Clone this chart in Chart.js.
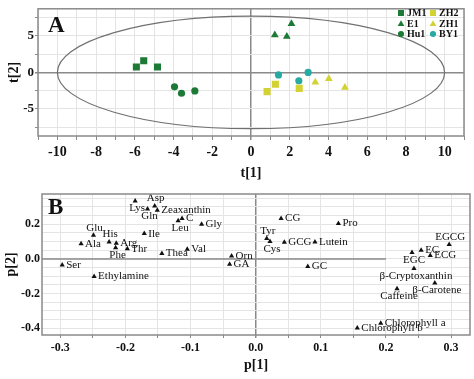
<!DOCTYPE html>
<html lang="en">
<head>
<meta charset="UTF-8">
<title>PCA scores and loadings</title>
<script src="https://cdn.jsdelivr.net/npm/chart.js"></script>
<style>
  body { margin: 0; background: #fff; }
  #wrap { position: relative; width: 474px; height: 379px; }
  canvas { position: absolute; left: 0; }
  #scoreChart { top: 0; }
  #loadChart { top: 182px; }
</style>
</head>
<body>
<div id="wrap">
  <canvas id="scoreChart" width="474" height="182"></canvas>
  <canvas id="loadChart" width="474" height="197"></canvas>
</div>
<script>
// ---- panel A: scores t[1] / t[2] ----
const JM1_T1 = [-5.92, -5.54, -4.83];
const JM1_T2 = [0.75, 1.6, 0.75];
const E1_T1 = [1.23, 2.09, 1.85];
const E1_T2 = [5.1, 6.67, 4.9];
const HU1_T1 = [-3.95, -3.59, -2.9];
const HU1_T2 = [-1.97, -2.85, -2.54];
const ZH2_T1 = [0.83, 1.26, 2.49];
const ZH2_T2 = [-2.63, -1.62, -2.19];
const ZH1_T1 = [3.32, 4.02, 4.85];
const ZH1_T2 = [-1.36, -0.88, -2.06];
const BY1_T1 = [1.42, 2.95, 2.47];
const BY1_T2 = [-0.35, 0.0, -1.14];

const T1_LABELS = [-10, -8, -6, -4, -2, 0, 2, 4, 6, 8, 10];
const T2_LABELS = [-5, 0, 5];
// Hotelling ellipse semi axes
const ELLIPSE_T1 = 10;
const ELLIPSE_T2 = 7.7;

// ---- panel B: loadings p[1] / p[2] ----
const compounds = ['Ser', 'Ethylamine', 'Ala', 'Glu', 'His', 'Arg', 'Phe', 'Thr', 'Lys', 'Asp',
  'Gln', 'Zeaxanthin', 'Ile', 'Leu', 'C', 'Gly', 'Thea', 'Val', 'Orn', 'GA',
  'CG', 'Pro', 'Tyr', 'Cys', 'GCG', 'Lutein', 'GC', 'EGCG', 'EC', 'EGC',
  'ECG', 'β-Cryptoxanthin', 'β-Carotene', 'Caffeine', 'Chlorophyll a', 'Chlorophyll b'];
const P1 = [-0.297, -0.248, -0.268, -0.249, -0.225, -0.214, -0.215, -0.197, -0.185, -0.155,
  -0.166, -0.151, -0.171, -0.119, -0.113, -0.083, -0.144, -0.105, -0.037, -0.040,
  0.039, 0.127, 0.017, 0.022, 0.044, 0.091, 0.080, 0.297, 0.254, 0.240,
  0.268, 0.243, 0.275, 0.217, 0.192, 0.156];
const P2 = [-0.035, -0.102, 0.087, 0.137, 0.098, 0.091, 0.065, 0.058, 0.335, 0.306,
  0.289, 0.281, 0.146, 0.221, 0.233, 0.200, 0.031, 0.056, 0.017, -0.031,
  0.233, 0.204, 0.118, 0.100, 0.096, 0.098, -0.044, 0.083, 0.050, 0.037,
  0.019, -0.056, -0.140, -0.172, -0.372, -0.399];
// where each name sits: r = right, a = above, b = below
const labelSide = ['r', 'r', 'r', 'a', 'a', 'r', 'b', 'r', 'b', 'a',
  'b', 'r', 'r', 'b', 'r', 'r', 'r', 'r', 'r', 'r',
  'r', 'r', 'a', 'b', 'r', 'r', 'r', 'a', 'r', 'b',
  'r', 'b', 'b', 'b', 'r', 'r'];

const P1_LABELS = [-0.3, -0.2, -0.1, 0, 0.1, 0.2, 0.3];
const P2_LABELS = [-0.4, -0.2, 0, 0.2];
const ZERO_LINE_END = 0.2;

const SERIF = '"Liberation Serif", "Times New Roman", serif';
const DARK_GREEN = '#1c7a36';
const YELLOW = '#d2d232';
const TEAL = '#28aaa2';
const FRAME = '#8a8a8a';
const GRID = '#e4e4e4';

function pts(xs, ys) {
  return xs.map((x, i) => ({ x: x, y: ys[i] }));
}

function stepTicks(from, to, step) {
  const out = [];
  const n = Math.round((to - from) / step);
  for (let i = 0; i <= n; i++) out.push({ value: Math.round((from + i * step) * 1000) / 1000 });
  return out;
}

const isLabel = (list, v) => list.some(t => Math.abs(t - v) < 1e-9);

// frame, panel letter, custom legend, ellipse etc
const framePlugin = {
  id: 'frame',
  afterDraw(chart, args, opts) {
    const { ctx, chartArea: a } = chart;
    ctx.save();
    ctx.strokeStyle = FRAME;
    ctx.lineWidth = 1.5;
    ctx.strokeRect(a.left, a.top, a.right - a.left, a.bottom - a.top);
    ctx.fillStyle = '#111';
    ctx.font = 'bold 23px ' + SERIF;
    ctx.textBaseline = 'alphabetic';
    ctx.fillText(opts.letter, 48, 32);
    ctx.restore();
  }
};

const ellipsePlugin = {
  id: 'ellipse',
  beforeDatasetsDraw(chart) {
    const { ctx, scales: { x, y } } = chart;
    const cx = x.getPixelForValue(0), cy = y.getPixelForValue(0);
    const rx = x.getPixelForValue(ELLIPSE_T1) - cx;
    const ry = cy - y.getPixelForValue(ELLIPSE_T2);
    ctx.save();
    ctx.beginPath();
    ctx.ellipse(cx, cy, rx, ry, 0, 0, Math.PI * 2);
    ctx.strokeStyle = '#707070';
    ctx.lineWidth = 1.2;
    ctx.stroke();
    ctx.restore();
  }
};

const legendPlugin = {
  id: 'boxLegend',
  afterDraw(chart) {
    const { ctx } = chart;
    const colX = [401, 433];
    const rowY = [13, 24, 34];
    ctx.save();
    ctx.font = 'bold 10px ' + SERIF;
    ctx.textBaseline = 'middle';
    chart.data.datasets.forEach((ds, i) => {
      const cx = colX[Math.floor(i / 3)];
      const cy = rowY[i % 3];
      ctx.fillStyle = ds.backgroundColor;
      Chart.helpers.drawPoint(ctx, { pointStyle: ds.pointStyle, radius: ds.pointRadius * 0.85, rotation: 0, borderWidth: 0 }, cx, cy);
      ctx.fillStyle = '#111';
      ctx.fillText(ds.label, cx + 6, cy + 0.5);
    });
    ctx.restore();
  }
};

const namePlugin = {
  id: 'names',
  afterDatasetsDraw(chart) {
    const { ctx, scales: { x, y } } = chart;
    ctx.save();
    ctx.fillStyle = '#111';
    ctx.font = '11px ' + SERIF;
    compounds.forEach((name, i) => {
      const px = x.getPixelForValue(P1[i]);
      const py = y.getPixelForValue(P2[i]);
      const side = labelSide[i];
      if (side === 'r') {
        ctx.textAlign = 'left'; ctx.textBaseline = 'middle';
        ctx.fillText(name, px + 4, py);
      } else if (side === 'a') {
        ctx.textAlign = 'center'; ctx.textBaseline = 'bottom';
        ctx.fillText(name, px + 1, py - 2);
      } else {
        ctx.textAlign = 'center'; ctx.textBaseline = 'top';
        ctx.fillText(name, px + 2, py + 2);
      }
    });
    ctx.restore();
  }
};

const zeroLinePlugin = {
  id: 'zeroLine',
  beforeDatasetsDraw(chart) {
    const { ctx, chartArea: a, scales: { x, y } } = chart;
    const py = y.getPixelForValue(0);
    ctx.save();
    ctx.strokeStyle = FRAME;
    ctx.lineWidth = 1.5;
    ctx.beginPath();
    ctx.moveTo(a.left, py);
    ctx.lineTo(x.getPixelForValue(ZERO_LINE_END), py);
    ctx.stroke();
    ctx.restore();
  }
};

function axis(opts) {
  return {
    type: 'linear',
    min: opts.min,
    max: opts.max,
    afterBuildTicks: s => { s.ticks = stepTicks(opts.from, opts.to, opts.step); },
    afterFit: opts.fit,
    ticks: {
      autoSkip: false,
      maxRotation: 0,
      padding: opts.pad,
      color: '#111',
      font: { family: SERIF, size: opts.fontSize, weight: 'bold' },
      callback: v => isLabel(opts.labels, v) ? opts.fmt(v) : ''
    },
    grid: {
      color: c => (opts.darkZero && c.tick && c.tick.value === 0) ? FRAME : GRID,
      lineWidth: c => (opts.darkZero && c.tick && c.tick.value === 0) ? 1.5 : 1,
      drawTicks: opts.tickLen > 0,
      tickLength: opts.tickLen,
      tickColor: FRAME
    },
    border: { display: false },
    title: {
      display: true,
      text: opts.title,
      color: '#111',
      font: { family: SERIF, size: 14, weight: 'bold' },
      padding: opts.titlePad
    }
  };
}

function series(label, xs, ys, style, color, r) {
  return {
    label: label,
    data: pts(xs, ys),
    pointStyle: style,
    pointRadius: r,
    backgroundColor: color,
    borderWidth: 0
  };
}

new Chart(document.getElementById('scoreChart'), {
  type: 'scatter',
  data: {
    datasets: [
      series('JM1', JM1_T1, JM1_T2, 'rect', DARK_GREEN, 5),
      series('E1', E1_T1, E1_T2, 'triangle', DARK_GREEN, 4.5),
      series('Hu1', HU1_T1, HU1_T2, 'circle', DARK_GREEN, 3.6),
      series('ZH2', ZH2_T1, ZH2_T2, 'rect', YELLOW, 5),
      series('ZH1', ZH1_T1, ZH1_T2, 'triangle', YELLOW, 4.5),
      series('BY1', BY1_T1, BY1_T2, 'circle', TEAL, 3.6)
    ]
  },
  options: {
    responsive: false,
    animation: false,
    events: [],
    layout: { padding: { top: 4, right: 10, left: 0, bottom: 0 } },
    plugins: { legend: { display: false }, tooltip: { enabled: false }, frame: { letter: 'A' } },
    scales: {
      x: axis({ min: -11, max: 11, from: -11, to: 11, step: 1, labels: T1_LABELS, fmt: v => String(v),
        fit: s => { s.height = 46; }, pad: 4, tickLen: 4, fontSize: 14, darkZero: true,
        title: 't[1]', titlePad: { top: 0, bottom: 0 } }),
      y: axis({ min: -8.7, max: 8.7, from: -7.5, to: 7.5, step: 2.5, labels: T2_LABELS, fmt: v => String(v),
        fit: s => { s.width = 38; }, pad: 1, tickLen: 3, fontSize: 13, darkZero: true,
        title: 't[2]', titlePad: { top: 6, bottom: 0 } })
    }
  },
  plugins: [ellipsePlugin, framePlugin, legendPlugin]
});

new Chart(document.getElementById('loadChart'), {
  type: 'scatter',
  data: {
    datasets: [{
      label: 'loadings',
      data: pts(P1, P2),
      pointStyle: 'triangle',
      pointRadius: 3,
      backgroundColor: '#111',
      borderWidth: 0
    }]
  },
  options: {
    responsive: false,
    animation: false,
    events: [],
    layout: { padding: { top: 12, right: 4, left: 0, bottom: 0 } },
    plugins: { legend: { display: false }, tooltip: { enabled: false }, frame: { letter: 'B' } },
    scales: {
      x: axis({ min: -0.328, max: 0.329, from: -0.3, to: 0.3, step: 0.05, labels: P1_LABELS, fmt: v => v.toFixed(1),
        fit: s => { s.height = 44; }, pad: 3, tickLen: 3, fontSize: 12, darkZero: true,
        title: 'p[1]', titlePad: { top: 0, bottom: 5 } }),
      y: axis({ min: -0.44, max: 0.375, from: -0.4, to: 0.35, step: 0.05, labels: P2_LABELS, fmt: v => v.toFixed(1),
        fit: s => { s.width = 42; }, pad: 2, tickLen: 0, fontSize: 12, darkZero: false,
        title: 'p[2]', titlePad: { top: 3, bottom: 0 } })
    }
  },
  plugins: [zeroLinePlugin, framePlugin, namePlugin]
});
</script>
</body>
</html>
